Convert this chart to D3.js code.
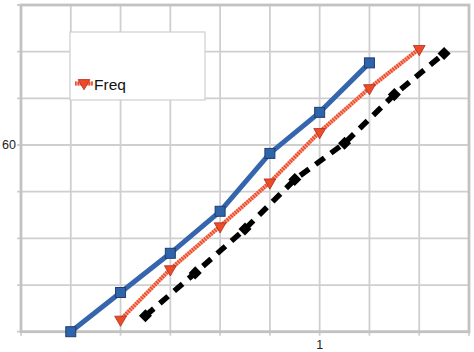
<!DOCTYPE html>
<html>
<head>
<meta charset="utf-8">
<script src="https://d3js.org/d3.v7.min.js"></script>
<style>
  body { margin: 0; background: #fff; }
  text { font-family: "Liberation Sans", Arial, sans-serif; }
</style>
</head>
<body>
<script>
    // data
    var xGrid = [0.4, 0.5, 0.6, 0.7, 0.8, 0.9, 1.0, 1.1, 1.2, 1.3];
    var yGrid = [40, 45, 50, 55, 60, 65, 70, 75];
    var xLabels = [1];
    var yLabels = [60];

    var blueX = [0.5, 0.6, 0.7, 0.8, 0.9, 1.0, 1.1];
    var blueY = [40, 44.2, 48.4, 52.9, 59.1, 63.5, 68.8];

    var freqX = [0.6, 0.7, 0.8, 0.9, 1.0, 1.1, 1.2];
    var freqY = [41.3, 46.7, 51.3, 56.0, 61.4, 66.1, 70.3];

    var blackX = [0.65, 0.75, 0.85, 0.95, 1.05, 1.15, 1.25];
    var blackY = [41.7, 46.3, 51.0, 56.3, 60.2, 65.4, 69.8];

    var legendLabel = "Freq";

    var width = 474, height = 352,
        margin = { top: 5, right: 5, bottom: 20, left: 21 };

    var svg = d3.select("body").append("svg")
        .attr("width", width).attr("height", height);

    var x = d3.scaleLinear().domain([0.4, 1.3]).range([margin.left, width - margin.right]);
    var y = d3.scaleLinear().domain([40, 75]).range([height - margin.bottom - 0.3, margin.top]);

    // grid
    var grid = svg.append("g");
    grid.selectAll("line.vx").data(xGrid).enter().append("line")
        .attr("x1", function (d) { return x(d); }).attr("x2", function (d) { return x(d); })
        .attr("y1", y(75)).attr("y2", y(40) + 4)
        .attr("stroke", "#cfcfcf").attr("stroke-width", 1.8);
    grid.selectAll("line.hy").data(yGrid).enter().append("line")
        .attr("y1", function (d) { return y(d); }).attr("y2", function (d) { return y(d); })
        .attr("x1", x(0.4) - 4).attr("x2", x(1.3))
        .attr("stroke", "#cfcfcf").attr("stroke-width", 1.8);

    // frame
    svg.append("rect")
        .attr("x", x(0.4)).attr("y", y(75))
        .attr("width", x(1.3) - x(0.4)).attr("height", y(40) - y(75))
        .attr("fill", "none").attr("stroke", "#c2c2c2").attr("stroke-width", 2.8);

    // tick labels
    svg.selectAll("text.xl").data(xLabels).enter().append("text")
        .attr("x", function (d) { return x(d); }).attr("y", 349)
        .attr("text-anchor", "middle").attr("font-size", 12.5).attr("fill", "#222")
        .text(function (d) { return d; });
    svg.selectAll("text.yl").data(yLabels).enter().append("text")
        .attr("x", 16).attr("y", function (d) { return y(d); }).attr("dy", "0.35em")
        .attr("text-anchor", "end").attr("font-size", 12.5).attr("fill", "#222")
        .text(function (d) { return d; });

    function pts(xs, ys) { return xs.map(function (v, i) { return [v, ys[i]]; }); }
    var line = d3.line().x(function (d) { return x(d[0]); }).y(function (d) { return y(d[1]); });

    // black dashed series
    var black = pts(blackX, blackY);
    svg.append("path").attr("d", line(black))
        .attr("fill", "none").attr("stroke", "#000").attr("stroke-width", 5.5)
        .attr("stroke-dasharray", "11,8");
    svg.selectAll("path.dia").data(black).enter().append("path")
        .attr("d", d3.symbol().type(d3.symbolSquare).size(85))
        .attr("transform", function (d) { return "translate(" + x(d[0]) + "," + y(d[1]) + ") rotate(45)"; })
        .attr("fill", "#000");

    // blue series
    var blue = pts(blueX, blueY);
    svg.append("path").attr("d", line(blue))
        .attr("fill", "none").attr("stroke", "#3566ad").attr("stroke-width", 5)
        .attr("stroke-linejoin", "round");
    svg.selectAll("rect.sq").data(blue).enter().append("rect")
        .attr("x", function (d) { return x(d[0]) - 5; }).attr("y", function (d) { return y(d[1]) - 5; })
        .attr("width", 10).attr("height", 10)
        .attr("fill", "#2f63aa").attr("stroke", "#1d3f70").attr("stroke-width", 1);

    // red Freq series
    var freq = pts(freqX, freqY);
    function freqLine(sel) {
        sel.append("path").attr("fill", "none").attr("stroke", "#f6a58f").attr("stroke-width", 4);
        sel.append("path").attr("fill", "none").attr("stroke", "#ec4a2a").attr("stroke-width", 4)
            .attr("stroke-dasharray", "1.5,1.2");
    }
    var fg = svg.append("g");
    freqLine(fg);
    fg.selectAll("path").attr("d", line(freq));
    var tri = d3.symbol().type(d3.symbolTriangle).size(60);
    svg.selectAll("path.tri").data(freq).enter().append("path")
        .attr("d", tri)
        .attr("transform", function (d) { return "translate(" + x(d[0]) + "," + y(d[1]) + ") rotate(180)"; })
        .attr("fill", "#ee4a2a").attr("stroke", "#a8301a").attr("stroke-width", 0.8);

    // legend
    var lg = svg.append("g");
    lg.append("rect").attr("x", 70).attr("y", 32).attr("width", 135).attr("height", 68)
        .attr("fill", "#fff").attr("stroke", "#cfcfcf").attr("stroke-width", 1.2);
    var ls = lg.append("g");
    freqLine(ls);
    ls.selectAll("path").attr("d", "M75,83.5L93,83.5");
    lg.append("path").attr("d", tri)
        .attr("transform", "translate(84,83) rotate(180)")
        .attr("fill", "#ee4a2a").attr("stroke", "#a8301a").attr("stroke-width", 0.8);
    lg.append("text").attr("x", 94).attr("y", 90).attr("font-size", 15.5).attr("fill", "#111")
        .text(legendLabel);
</script>
</body>
</html>
